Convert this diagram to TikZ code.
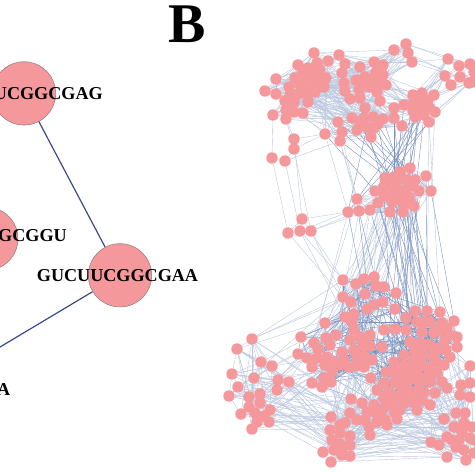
\documentclass[tikz,border=0pt]{standalone}
\usepackage{fontspec}
\setmainfont{Liberation Serif}
\usepackage{tikz}
\usetikzlibrary{backgrounds}
\definecolor{dotpink}{HTML}{F4989C}
\definecolor{hubline}{HTML}{3B4A8C}
\definecolor{hubrim}{HTML}{8C7F86}
\definecolor{faintblue}{HTML}{BCC8DF}
\definecolor{deepblue}{HTML}{7C92C0}
\tikzset{
  dot/.style={circle,fill=dotpink,inner sep=0pt,minimum size=8.6pt},
  hub/.style={circle,draw=hubrim,fill=dotpink,line width=.4pt,inner sep=0pt,minimum size=47.5pt},
  seqlabel/.style={inner sep=0pt,font=\fontsize{13.6}{16}\selectfont\bfseries},
  faint/.style={draw=faintblue,line width=.3pt},
  deep/.style={draw=deepblue,line width=.3pt},
}
% place one group of dots, the size of the group goes to \n<name>
\newcommand{\dotgroup}[2]{\foreach \x/\y [count=\i] in {#2} {
    \node[dot] (#1\i) at (\x,\y) {};
    \expandafter\xdef\csname n#1\endcsname{\i}}}
% links inside a group
\newcommand{\strides}[3]{\pgfmathtruncatemacro\nn{\csname n#1\endcsname}
  \foreach \k in {#2} {\foreach \i in {1,...,\nn} {
      \pgfmathtruncatemacro\j{1+mod(\i+\k-1,\nn)}
      \draw[#3] (#1\i) -- (#1\j);}}}
% links between two groups
\newcommand{\crosslinks}[4]{\pgfmathtruncatemacro\nn{\csname n#1\endcsname}
  \pgfmathtruncatemacro\mm{\csname n#2\endcsname}
  \foreach \i in {1,...,\nn} {
    \pgfmathtruncatemacro\j{1+mod(\i*#3,\mm)}
    \draw[#4] (#1\i) -- (#2\j);}}
\begin{document}
\begin{tikzpicture}[x=.75pt,y=-.75pt]
\useasboundingbox (0,0) rectangle (474,474);
% left: three large nodes
\node[hub] (hubg) at (24,93.4) {};
\node[hub] (hubu) at (-13.7,238.7) {};
\node[hub] (hubc) at (120,275.3) {};
\coordinate (hubout) at (-10,353);
\begin{scope}[on background layer]
\draw[hubline,line width=.9pt] (hubg) -- (hubc);
\draw[hubline,line width=.9pt] (hubc) -- (hubout);
\end{scope}
\node[seqlabel,anchor=east] (labg) at (103,94) {UCGGCGAG};
\node[seqlabel,anchor=east] (labu) at (67,236) {GCGGU};
\node[seqlabel] (labc) at (117.5,275.5) {GUCUUCGGCGAA};
\node[seqlabel,anchor=east] (laba) at (10.5,390) {A};
\node[font=\fontsize{42}{44}\selectfont\bfseries,inner sep=0pt] (panel) at (187,24.5) {B};
% right: the network, top part
\dotgroup{Tf}{406/44,394/50,408/53,412/62}
\dotgroup{Te}{448/59,459/66,470/64,445/76,460/77,451/85,469/83,474/72,472/82}
\dotgroup{Ta}{314/53,298/65,317/63,328/61,276/79,265/91,276/94,289/87,295/78,308/68,320/70,326/78,324/87,317/80,307/78,309/88,300/85,315/92,300/93,285/101,294/102,308/102,286/110,303/113,294/112,273/115,286/119,313/72,302/75,296/95,308/95,290/95,316/85}
\dotgroup{Tb}{339/55,345/64,342/73,360/67,374/62,383/65,344/83,345/91,350/99,356/80,365/77,374/78,383/75,386/85,377/92,369/87,359/90,360/98,380/101,365/108,372/85,380/84,364/85,376/72}
\dotgroup{Tc}{394/108,404/105,413/95,422/93,434/95,419/103,429/107,435/112,415/117,424/115,429/122,412/105,420/96,428/100,413/111,422/108}
\dotgroup{Td}{338/122,352/118,364/118,373/117,383/119,394/118,402/126,367/127,374/128,357/130,371/137,342/132,325/134,340/141,360/122,378/124}
\dotgroup{L}{294/139,294/149,272/158,285/161}
% middle clusters
\dotgroup{M}{410/168,426/176,431/191,400/172,385/178,394/177,407/180,415/180,375/191,384/187,395/185,404/190,419/191,384/196,394/193,409/197,378/203,392/202,402/202,414/206,403/212,390/212,370/210,359/211,348/212,357/199,400/196,413/186,390/186,402/178,410/203}
\dotgroup{S}{302/219,288/233,300/231,311/231}
% bottom clusters
\dotgroup{A}{252/339,237/349,261/362,272/366,232/374,254/378,278/380,289/382,277/390,238/387,229/396,249/397,260/394,260/403,249/407,270/410,241/414,255/413,264/416,269/422,257/422,252/429}
\dotgroup{Ba}{343/280,356/284,364/279,374/277,384/287,376/286,396/293,343/297,351/302,365/294,383/302,374/305,367/309,395/309,345/317,354/314,325/323,354/330,336/335,301/337,326/338,314/343,330/345,298/354,307/358,317/358,312/367,327/357,325/365,335/362,332/372,344/360,349/367,340/365,364/367,372/360,354/350,364/347,370/335,360/337,382/347,357/357,312/383,322/387,324/378,331/382,350/340,342/352,365/357,356/366,352/322,370/346,362/340,318/349}
\dotgroup{Bb}{384/330,395/329,406/318,415/311,427/311,440/312,454/321,406/330,417/322,430/322,442/323,447/328,457/337,457/347,445/340,434/333,422/332,410/342,420/343,430/345,440/348,450/357,444/365,434/357,424/355,414/360,394/362,404/365,394/372,405/377,417/370,427/367,437/373,442/382,430/382,419/382,407/387,395/382,384/383,377/390,389/392,400/395,412/393,424/392,435/393,447/388,430/405,417/410,405/403,394/400,384/398,374/405,382/410,395/413,371/378,436/330,424/322,446/350,415/351,404/355,425/345,400/372,412/378,424/378,436/362,430/372,386/372,400/385,412/402,400/410,388/405,422/400,408/368,420/362,440/330,450/335,435/350,385/420,378/415,392/405,406/395,418/391}
\dotgroup{Bc}{351/399,362/403,367/412,387/425,397/419,377/422,369/427,370/435,350/413,357/420,345/423,331/417,330/430,340/433,350/436,350/445,332/440,340/444,334/450,323/452,342/455,350/456,331/462,342/448,365/420,375/412,340/425}
\dotgroup{R}{470/366,461/385,470/383,460/395,470/397,456/413,465/413,444/419,454/427,464/423,472/427,447/437,459/440,470/438,431/442,439/445,464/450,447/457,466/460,474/453,462/432,452/440,474/440,456/447}
% connectors stay behind the dots
\begin{scope}[on background layer]
\strides{Ta}{1,2,3,5,8}{faint}
\strides{Tb}{1,2,3,5}{faint}
\strides{Tc}{1,2,3}{faint}
\strides{Td}{1,2,3}{faint}
\strides{Te}{1,2}{faint}
\strides{Tf}{1}{faint}
\crosslinks{Ta}{Tb}{3}{faint}
\crosslinks{Tb}{Ta}{5}{faint}
\crosslinks{Ta}{Td}{5}{faint}
\crosslinks{Ta}{Td}{3}{faint}
\crosslinks{Tb}{Tc}{5}{faint}
\crosslinks{Tb}{Td}{3}{faint}
\crosslinks{Tb}{Tf}{3}{faint}
\crosslinks{Tc}{Td}{5}{faint}
\crosslinks{Tc}{Te}{3}{faint}
\crosslinks{Tf}{Te}{2}{faint}
\crosslinks{Tc}{M}{5}{deep}
\crosslinks{Td}{M}{3}{deep}
\strides{M}{1,2,3,5}{faint}
\crosslinks{M}{Ba}{3}{faint}
\crosslinks{M}{Bb}{2}{deep}
\strides{A}{1,2,3,6}{faint}
\strides{Ba}{1,2,3,5}{faint}
\strides{Ba}{4,7}{deep}
\strides{Bb}{1,2,3,5,8}{faint}
\strides{Bb}{4,7,11}{deep}
\strides{Bc}{1,2,3,5}{faint}
\strides{R}{1,2,3,5}{faint}
\crosslinks{Ba}{Bb}{5}{deep}
\crosslinks{Bc}{Bb}{3}{faint}
\crosslinks{Bc}{Bb}{7}{faint}
\crosslinks{Bc}{Ba}{5}{faint}
\crosslinks{A}{Ba}{5}{faint}
\crosslinks{A}{Bc}{3}{faint}
\crosslinks{A}{Bc}{5}{faint}
\crosslinks{R}{Bb}{3}{faint}
\crosslinks{R}{Bb}{7}{faint}
\crosslinks{R}{Bc}{3}{faint}
\crosslinks{R}{Bc}{5}{faint}
% single long links
\foreach \a/\b in {Ta26/L3,Ta27/L1,Ta27/L2,L1/L2,L3/L4,L2/L4,L2/Td13,L1/Td13,L4/Td14,L3/S2,L4/S3,L2/S4,L1/S1,S1/S2,S2/S3,S3/S4,S1/S3,S1/M25,S3/M25,S4/M24,S4/M23,Td13/M25,Td14/M24,Td1/M26,Td14/M26,S2/Ba8,S3/Ba1,S4/Ba8,S1/Ba1,S3/Ba15,A1/Ba1,A1/Ba8,Te7/Tc8,Te6/Tc5,Te4/Tc4,Tf2/Tb5,Tf2/Ta1,Ta1/Tb1,Tb1/Tb5,Tf4/Te1,Tf1/Te1,Tc11/Bb5,Tc11/Bb6,Td7/Bb4,Tc8/M3,Bc20/R15,Bc23/R18,Bc22/R15,Bc22/R18,Bc23/R16}
  \draw[faint] (\a) -- (\b);
\end{scope}
\end{tikzpicture}
\end{document}
